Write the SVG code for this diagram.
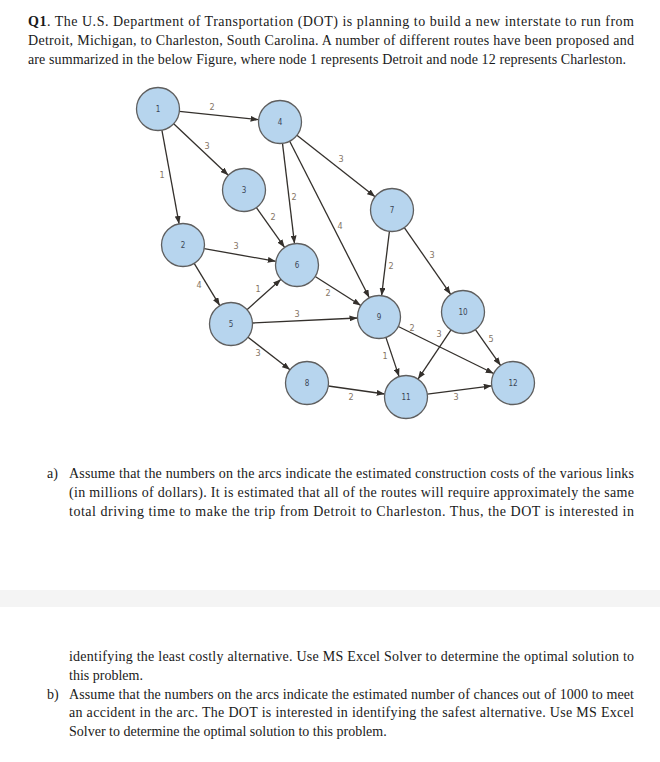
<svg xmlns="http://www.w3.org/2000/svg" width="660" height="762" viewBox="0 0 660 762">
<style>
.body{font-family:"Liberation Serif","Times New Roman",serif;font-size:14px;fill:#1a1a1a}
.node circle{fill:#b7d5ee;stroke:#5f5f5f;stroke-width:1.3}
.node text{font-family:"DejaVu Sans Condensed","Liberation Sans",sans-serif;font-size:8px;fill:#3c4656;text-anchor:middle}
.edges line{stroke:#34302c;stroke-width:1.3}
.lbl{font-family:"DejaVu Sans Condensed","Liberation Sans",sans-serif;font-size:9px;fill:#857565;text-anchor:middle}
</style>
<defs>
<marker id="ah" markerUnits="userSpaceOnUse" markerWidth="8" markerHeight="6" refX="8" refY="3" orient="auto">
<path d="M0,0 L8,3 L0,6 z" fill="#34302c"/>
</marker>
</defs>
<rect x="0" y="0" width="660" height="762" fill="#ffffff"/>
<rect x="0" y="590" width="660" height="17" fill="#f4f4f4"/>

<g id="text-top" class="body">
<text x="28" y="26" textLength="606" lengthAdjust="spacing"><tspan font-weight="bold">Q1</tspan>. The U.S. Department of Transportation (DOT) is planning to build a new interstate to run from</text>
<text x="28" y="45" textLength="606" lengthAdjust="spacing">Detroit, Michigan, to Charleston, South Carolina. A number of different routes have been proposed and</text>
<text x="28" y="64" textLength="598" lengthAdjust="spacing">are summarized in the below Figure, where node 1 represents Detroit and node 12 represents Charleston.</text>
</g>

<g id="connectors" class="edges">
<line x1="179.4" y1="111.3" x2="258.6" y2="119.7" marker-end="url(#ah)"/>
<line x1="173.7" y1="123.7" x2="228.3" y2="175.3" marker-end="url(#ah)"/>
<line x1="161.9" y1="130.1" x2="179.1" y2="223.9" marker-end="url(#ah)"/>
<line x1="282.5" y1="143.4" x2="294.5" y2="243.6" marker-end="url(#ah)"/>
<line x1="289.7" y1="141.2" x2="369.3" y2="297.8" marker-end="url(#ah)"/>
<line x1="296.9" y1="135.3" x2="375.1" y2="196.7" marker-end="url(#ah)"/>
<line x1="256.4" y1="207.6" x2="284.6" y2="247.4" marker-end="url(#ah)"/>
<line x1="204.2" y1="248.7" x2="275.8" y2="261.3" marker-end="url(#ah)"/>
<line x1="194.2" y1="263.4" x2="219.8" y2="305.6" marker-end="url(#ah)"/>
<line x1="247.0" y1="309.7" x2="281.0" y2="279.3" marker-end="url(#ah)"/>
<line x1="252.5" y1="323.0" x2="357.5" y2="318.0" marker-end="url(#ah)"/>
<line x1="248.0" y1="337.2" x2="290.0" y2="369.8" marker-end="url(#ah)"/>
<line x1="315.2" y1="276.5" x2="360.8" y2="305.5" marker-end="url(#ah)"/>
<line x1="389.4" y1="231.3" x2="381.6" y2="295.7" marker-end="url(#ah)"/>
<line x1="404.3" y1="227.6" x2="450.7" y2="294.4" marker-end="url(#ah)"/>
<line x1="328.3" y1="386.0" x2="384.7" y2="394.0" marker-end="url(#ah)"/>
<line x1="385.9" y1="337.4" x2="399.1" y2="376.6" marker-end="url(#ah)"/>
<line x1="398.3" y1="326.5" x2="493.7" y2="373.5" marker-end="url(#ah)"/>
<line x1="451.0" y1="329.9" x2="418.0" y2="379.1" marker-end="url(#ah)"/>
<line x1="475.4" y1="329.6" x2="500.6" y2="365.4" marker-end="url(#ah)"/>
<line x1="427.3" y1="394.2" x2="491.7" y2="385.8" marker-end="url(#ah)"/>
</g>

<g id="edge-labels">
<text class="lbl" x="212" y="110">2</text>
<text class="lbl" x="207" y="149">3</text>
<text class="lbl" x="162" y="178">1</text>
<text class="lbl" x="294" y="200">2</text>
<text class="lbl" x="340" y="229">4</text>
<text class="lbl" x="341" y="162">3</text>
<text class="lbl" x="273" y="220">2</text>
<text class="lbl" x="236" y="249">3</text>
<text class="lbl" x="199" y="288">4</text>
<text class="lbl" x="258" y="292">1</text>
<text class="lbl" x="297" y="317">3</text>
<text class="lbl" x="258" y="356">3</text>
<text class="lbl" x="328" y="296">2</text>
<text class="lbl" x="391" y="269">2</text>
<text class="lbl" x="432" y="258">3</text>
<text class="lbl" x="351" y="400">2</text>
<text class="lbl" x="385" y="359">1</text>
<text class="lbl" x="412" y="331">2</text>
<text class="lbl" x="439" y="337">3</text>
<text class="lbl" x="491" y="342">5</text>
<text class="lbl" x="456" y="400">3</text>
</g>

<g id="node1" class="node"><circle cx="158" cy="109" r="21.5"/><text x="158" y="112">1</text></g>
<g id="node2" class="node"><circle cx="183" cy="245" r="21.5"/><text x="183" y="248">2</text></g>
<g id="node3" class="node"><circle cx="244" cy="190" r="21.5"/><text x="244" y="193">3</text></g>
<g id="node4" class="node"><circle cx="280" cy="122" r="21.5"/><text x="280" y="125">4</text></g>
<g id="node5" class="node"><circle cx="231" cy="324" r="21.5"/><text x="231" y="327">5</text></g>
<g id="node6" class="node"><circle cx="297" cy="265" r="21.5"/><text x="297" y="268">6</text></g>
<g id="node7" class="node"><circle cx="392" cy="210" r="21.5"/><text x="392" y="213">7</text></g>
<g id="node8" class="node"><circle cx="307" cy="383" r="21.5"/><text x="307" y="386">8</text></g>
<g id="node9" class="node"><circle cx="379" cy="317" r="21.5"/><text x="379" y="320">9</text></g>
<g id="node10" class="node"><circle cx="463" cy="312" r="21.5"/><text x="463" y="315">10</text></g>
<g id="node11" class="node"><circle cx="406" cy="397" r="21.5"/><text x="406" y="400">11</text></g>
<g id="node12" class="node"><circle cx="513" cy="383" r="21.5"/><text x="513" y="386">12</text></g>

<g id="text-a" class="body">
<text x="47" y="478">a)</text>
<text x="69" y="478" textLength="565" lengthAdjust="spacing">Assume that the numbers on the arcs indicate the estimated construction costs of the various links</text>
<text x="69" y="497" textLength="565" lengthAdjust="spacing">(in millions of dollars). It is estimated that all of the routes will require approximately the same</text>
<text x="69" y="516" textLength="565" lengthAdjust="spacing">total driving time to make the trip from Detroit to Charleston. Thus, the DOT is interested in</text>
</g>

<g id="text-b" class="body">
<text x="69" y="661" textLength="565" lengthAdjust="spacing">identifying the least costly alternative. Use MS Excel Solver to determine the optimal solution to</text>
<text x="69" y="680">this problem.</text>
<text x="47" y="699">b)</text>
<text x="69" y="699" textLength="565" lengthAdjust="spacing">Assume that the numbers on the arcs indicate the estimated number of chances out of 1000 to meet</text>
<text x="69" y="717" textLength="565" lengthAdjust="spacing">an accident in the arc. The DOT is interested in identifying the safest alternative. Use MS Excel</text>
<text x="69" y="736">Solver to determine the optimal solution to this problem.</text>
</g>
</svg>
